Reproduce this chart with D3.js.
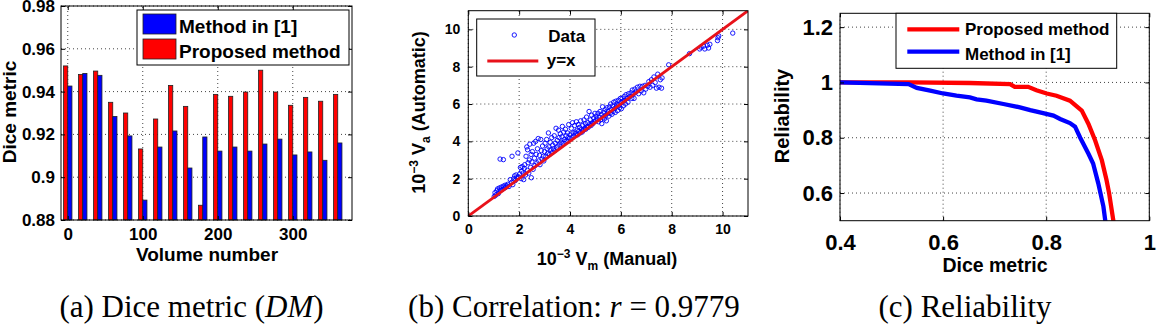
<!DOCTYPE html>
<html>
<head>
<meta charset="utf-8">
<script src="https://cdn.jsdelivr.net/npm/d3@7"></script>
<style>
  body { margin: 0; background: #fff; }
  svg { display: block; }
</style>
</head>
<body>
<div id="figure"></div>
<script>
// (a) Dice metric per volume
const volumeNumbers = [0, 20, 40, 60, 80, 100, 120, 140, 160, 180, 200, 220, 240, 260, 280, 300, 320, 340, 360];
const diceProposed = [0.952, 0.948, 0.9496, 0.935, 0.930, 0.9132, 0.9272, 0.9429, 0.9331, 0.8869, 0.9387, 0.9378, 0.9398, 0.950, 0.9398, 0.9336, 0.9373, 0.9355, 0.9387];
const diceMethod1 = [0.9426, 0.9485, 0.9476, 0.9284, 0.9193, 0.8893, 0.9141, 0.9216, 0.9043, 0.9188, 0.9122, 0.9141, 0.9122, 0.9155, 0.9178, 0.9104, 0.9118, 0.9079, 0.916];
const diceYTicks = [0.88, 0.9, 0.92, 0.94, 0.96, 0.98];
const diceYLabels = ['0.88', '0.9', '0.92', '0.94', '0.96', '0.98'];
const volumeTicks = [0, 100, 200, 300];

// (b) automatic vs manual volume, [Vm, Va] in units of 10^3
const volumePairs = [
  [1.02,1.05],[1.05,1.25],[1.08,1.12],[1.12,1.35],[1.15,1.45],[1.18,1.2],[1.22,1.5],[1.25,1.38],[1.3,1.55],[1.33,1.42],
  [1.38,1.6],[1.42,1.5],[1.45,1.65],[1.48,1.55],[1.25,3.05],[1.38,3.02],
  [1.52,1.62],[1.55,1.7],[1.6,1.58],[1.65,1.95],[1.7,1.8],[1.72,3.2],[1.75,1.68],[1.78,2.0],[1.82,2.15],[1.85,1.9],
  [1.88,2.2],[1.9,2.05],[1.95,3.38],[1.97,2.1],
  [2.02,2.25],[2.05,2.6],[2.08,2.0],[2.1,2.4],[2.12,2.65],[2.15,2.3],[2.18,1.95],[2.2,2.55],[2.22,2.75],[2.25,2.2],
  [2.27,3.2],[2.3,3.7],[2.32,2.45],[2.33,3.55],[2.35,2.85],[2.38,2.3],[2.4,3.0],[2.42,3.85],[2.45,2.6],[2.47,3.3],
  [2.48,2.05],[2.5,2.9],
  [2.52,3.45],[2.55,2.5],[2.57,3.9],[2.6,3.1],[2.62,2.7],[2.65,4.0],[2.67,3.3],[2.7,2.85],[2.72,3.6],[2.75,4.15],
  [2.77,2.95],[2.8,3.25],[2.82,2.75],[2.85,4.1],[2.87,3.5],[2.9,3.05],[2.92,3.75],[2.95,3.2],[2.97,2.95],[3.0,3.45],
  [3.02,3.9],[3.05,3.2],[3.08,4.1],[3.1,3.6],[3.12,3.35],[3.15,4.45],[3.17,3.7],[3.2,3.3],[3.22,3.95],[3.25,3.55],
  [3.28,4.2],[3.3,3.4],[3.32,3.8],[3.35,3.6],[3.38,4.3],[3.4,3.5],[3.42,3.9],[3.45,4.7],[3.47,3.65],[3.5,4.05],
  [3.52,3.75],[3.55,4.6],[3.57,4.2],[3.6,3.85],[3.62,4.4],[3.65,3.95],[3.68,4.25],[3.7,4.8],[3.72,3.9],[3.75,4.5],
  [3.78,4.1],[3.8,4.0],[3.82,4.65],[3.85,4.3],[3.88,4.05],[3.9,4.45],[3.92,4.2],[3.95,4.9],[3.98,4.15],
  [4.0,4.35],[4.05,4.7],[4.08,4.2],[4.1,5.0],[4.12,4.45],[4.15,4.3],[4.18,4.85],[4.2,4.5],[4.22,4.4],[4.25,5.05],
  [4.28,4.6],[4.3,4.35],[4.32,4.9],[4.35,4.55],[4.38,4.75],[4.4,4.45],[4.42,5.1],[4.45,4.65],[4.48,4.5],
  [4.5,4.85],[4.53,4.6],[4.55,5.15],[4.58,4.7],[4.6,4.95],[4.62,4.65],[4.65,5.3],[4.68,4.8],[4.7,5.0],[4.72,4.75],
  [4.75,5.6],[4.78,4.9],[4.8,5.15],[4.83,4.85],[4.85,5.4],[4.88,5.0],[4.9,4.95],[4.93,5.25],[4.96,5.05],[4.98,5.5],
  [5.0,5.1],[5.03,5.35],[5.06,5.2],[5.1,5.5],[5.12,5.05],[5.15,5.3],[5.18,5.6],[5.2,5.15],[5.23,5.45],[5.25,4.95],
  [5.28,5.85],[5.3,5.3],[5.33,5.55],[5.35,5.2],[5.38,5.7],[5.4,5.4],[5.43,5.1],[5.45,5.8],[5.48,5.5],
  [5.5,5.6],[5.53,5.35],[5.55,5.85],[5.58,5.5],[5.6,6.0],[5.62,5.7],[5.65,5.45],[5.68,5.9],[5.7,5.6],[5.72,6.1],
  [5.75,5.75],[5.78,5.55],[5.8,6.15],[5.82,5.85],[5.85,6.0],[5.87,5.65],[5.9,6.2],[5.92,5.95],[5.95,5.8],[5.98,6.3],
  [6.0,6.05],[6.02,5.75],[6.05,6.3],[6.08,6.15],[6.1,5.9],[6.13,6.4],[6.15,6.2],[6.18,6.0],[6.2,6.5],[6.25,6.3],
  [6.28,6.1],[6.3,6.55],[6.35,6.4],[6.4,6.6],[6.43,6.3],[6.45,6.75],[6.5,6.55],
  [6.52,6.3],[6.55,6.8],[6.6,6.65],[6.65,6.9],[6.7,6.55],[6.75,6.95],[6.8,6.7],[6.85,6.95],[6.9,6.6],[6.95,7.0],[6.98,6.8],
  [7.05,6.95],[7.1,7.2],[7.15,6.9],[7.2,7.3],[7.25,7.0],[7.3,7.45],[7.35,7.15],[7.4,6.85],[7.45,7.6],[7.5,6.9],
  [7.55,7.3],[7.6,6.85],[7.62,7.4],[7.88,8.1],
  [8.7,8.7],[9.1,8.95],[9.15,9.05],[9.25,9.1],[9.3,8.95],[9.4,9.15],[9.45,9.0],[9.5,9.2],[9.8,9.4],[9.82,9.55],
  [9.85,9.65],[10.4,9.8]
];
const volumeTicks10 = [0, 2, 4, 6, 8, 10];

// (c) reliability curves
const proposedDice = [0.40, 0.536, 0.652, 0.73, 0.739, 0.765, 0.781, 0.801, 0.82, 0.846, 0.869, 0.882, 0.895, 0.908, 0.917, 0.922, 0.927, 0.932];
const proposedRel = [1.0, 1.0, 0.998, 0.994, 0.984, 0.984, 0.972, 0.96, 0.952, 0.934, 0.898, 0.85, 0.79, 0.718, 0.647, 0.6, 0.539, 0.48];
const method1Dice = [0.40, 0.533, 0.549, 0.575, 0.6, 0.626, 0.652, 0.665, 0.684, 0.717, 0.749, 0.769, 0.794, 0.814, 0.827, 0.846, 0.856, 0.866, 0.882, 0.891, 0.901, 0.911, 0.916];
const method1Rel = [1.0, 0.994, 0.98, 0.97, 0.96, 0.952, 0.946, 0.939, 0.934, 0.922, 0.91, 0.9, 0.889, 0.88, 0.868, 0.853, 0.84, 0.8, 0.742, 0.707, 0.635, 0.551, 0.48];
const relXTicks = [0.4, 0.6, 0.8, 1];
const relYTicks = [0.6, 0.8, 1, 1.2];

const captions = ['(a) Dice metric (', '(b) Correlation: ', '(c) Reliability'];

const SANS = '"Liberation Sans", Arial, sans-serif';
const SERIF = '"Liberation Serif", "Times New Roman", serif';

const svg = d3.select('#figure').append('svg')
    .attr('width', 1157)
    .attr('height', 326)
    .style('background', '#fff');

drawDiceBars();
drawCorrelation();
drawReliability();
drawCaptions();

// dotted grid at the ticks
function drawFrame(g, x, y, opt) {
  const [xl, xr] = x.range();
  const [yb, yt] = y.range();

  g.append('g').selectAll('line').data(opt.xTicks).join('line')
      .attr('x1', d => x(d)).attr('x2', d => x(d))
      .attr('y1', yb).attr('y2', yt);
  g.append('g').selectAll('line').data(opt.yTicks).join('line')
      .attr('x1', xl).attr('x2', xr)
      .attr('y1', d => y(d)).attr('y2', d => y(d));
  g.selectAll('g line')
      .attr('stroke', '#444')
      .attr('stroke-width', 1)
      .attr('stroke-dasharray', '1,3');
}

// inward ticks on all four sides plus the box
function drawAxes(g, x, y, opt) {
  const [xl, xr] = x.range();
  const [yb, yt] = y.range();

  const bottom = g.append('g').attr('transform', `translate(0,${yb})`)
      .call(d3.axisBottom(x).tickValues(opt.xTicks).tickFormat(opt.xFormat)
        .tickSizeInner(-4).tickSizeOuter(0).tickPadding(opt.xPad));
  const left = g.append('g').attr('transform', `translate(${xl},0)`)
      .call(d3.axisLeft(y).tickValues(opt.yTicks).tickFormat(opt.yFormat)
        .tickSizeInner(-4).tickSizeOuter(0).tickPadding(opt.yPad));
  g.append('g').attr('transform', `translate(0,${yt})`)
      .call(d3.axisTop(x).tickValues(opt.xTicks).tickFormat('').tickSizeInner(-4).tickSizeOuter(0));
  g.append('g').attr('transform', `translate(${xr},0)`)
      .call(d3.axisRight(y).tickValues(opt.yTicks).tickFormat('').tickSizeInner(-4).tickSizeOuter(0));

  g.selectAll('.domain').remove();
  g.selectAll('.tick line').attr('stroke', '#000');
  [bottom, left].forEach(a => a
      .attr('font-family', SANS)
      .attr('font-size', opt.tickSize)
      .attr('font-weight', 'bold'));
  g.selectAll('.tick text').attr('fill', '#000');

  g.append('rect')
      .attr('x', xl).attr('y', yt)
      .attr('width', xr - xl).attr('height', yb - yt)
      .attr('fill', 'none')
      .attr('stroke', '#000')
      .attr('stroke-width', 1);
}

function label(g, text, x, y, size, rotate) {
  const t = g.append('text')
      .attr('font-family', SANS)
      .attr('font-weight', 'bold')
      .attr('font-size', size)
      .attr('text-anchor', 'middle');
  if (rotate) {
    t.attr('transform', `translate(${x},${y}) rotate(-90)`);
  } else {
    t.attr('x', x).attr('y', y);
  }
  t.text(text);
  return t;
}

function drawDiceBars() {
  const g = svg.append('g');
  const x = d3.scaleLinear([-9, 379], [61, 352]);
  const y = d3.scaleLinear([0.88, 0.98], [220, 6]);
  const barW = 5.6;

  drawFrame(g, x, y, { xTicks: volumeTicks, yTicks: diceYTicks });

  const bars = g.append('g');
  bars.selectAll('rect.proposed').data(volumeNumbers).join('rect')
      .attr('class', 'proposed')
      .attr('x', d => x(d - barW))
      .attr('width', x(barW) - x(0))
      .attr('y', (d, i) => y(diceProposed[i]))
      .attr('height', (d, i) => y(0.88) - y(diceProposed[i]))
      .attr('fill', '#ff0000');
  bars.selectAll('rect.method1').data(volumeNumbers).join('rect')
      .attr('class', 'method1')
      .attr('x', d => x(d))
      .attr('width', x(barW) - x(0))
      .attr('y', (d, i) => y(diceMethod1[i]))
      .attr('height', (d, i) => y(0.88) - y(diceMethod1[i]))
      .attr('fill', '#0000ff');
  bars.selectAll('rect')
      .attr('stroke', '#222')
      .attr('stroke-width', 0.8);

  drawAxes(g, x, y, {
    xTicks: volumeTicks, yTicks: diceYTicks,
    xFormat: d => d, yFormat: (d, i) => diceYLabels[i],
    xPad: 8, yPad: 6, tickSize: 17
  });

  // legend
  const lg = g.append('g');
  lg.append('rect').attr('x', 137).attr('y', 10).attr('width', 212).attr('height', 55)
      .attr('fill', '#fff').attr('stroke', '#000');
  const items = [['Method in [1]', '#0000ff'], ['Proposed method', '#ff0000']];
  items.forEach(([name, col], i) => {
    lg.append('rect')
        .attr('x', 143).attr('y', 14 + i * 25)
        .attr('width', 33).attr('height', 20)
        .attr('fill', col).attr('stroke', '#222').attr('stroke-width', 0.8);
    lg.append('text')
        .attr('x', 179).attr('y', 32.5 + i * 25)
        .attr('font-family', SANS).attr('font-weight', 'bold').attr('font-size', 19)
        .text(name);
  });

  label(g, 'Volume number', 207, 261, 19);
  label(g, 'Dice metric', 16, 112, 19, true);
}

function drawCorrelation() {
  const g = svg.append('g');
  const x = d3.scaleLinear([0, 11], [468.3, 748]);
  const y = d3.scaleLinear([0, 11], [216, 10.7]);

  drawFrame(g, x, y, { xTicks: volumeTicks10, yTicks: volumeTicks10 });

  g.append('clipPath').attr('id', 'clip-b')
    .append('rect').attr('x', 468.3).attr('y', 10.7).attr('width', 748 - 468.3).attr('height', 216 - 10.7);

  const plot = g.append('g').attr('clip-path', 'url(#clip-b)');
  plot.selectAll('circle').data(volumePairs).join('circle')
      .attr('cx', d => x(d[0]))
      .attr('cy', d => y(d[1]))
      .attr('r', 2.2)
      .attr('fill', 'none')
      .attr('stroke', '#0000ff')
      .attr('stroke-width', 0.9);
  plot.append('line')
      .attr('x1', x(0)).attr('y1', y(0))
      .attr('x2', x(11)).attr('y2', y(11))
      .attr('stroke', '#e8121a')
      .attr('stroke-width', 2.8);

  drawAxes(g, x, y, {
    xTicks: volumeTicks10, yTicks: volumeTicks10,
    xFormat: d => d, yFormat: d => d,
    xPad: 8, yPad: 8, tickSize: 14
  });

  // legend
  const lg = g.append('g');
  lg.append('rect').attr('x', 476.7).attr('y', 19).attr('width', 118.3).attr('height', 57)
      .attr('fill', '#fff').attr('stroke', '#000');
  lg.append('circle').attr('cx', 514.3).attr('cy', 35).attr('r', 2.2)
      .attr('fill', 'none').attr('stroke', '#0000ff').attr('stroke-width', 0.9);
  lg.append('line').attr('x1', 487.3).attr('x2', 538.3).attr('y1', 61).attr('y2', 61)
      .attr('stroke', '#e8121a').attr('stroke-width', 2.8);
  lg.append('text').attr('x', 548.3).attr('y', 41.5)
      .attr('font-family', SANS).attr('font-weight', 'bold').attr('font-size', 17)
      .text('Data');
  lg.append('text').attr('x', 546.7).attr('y', 66)
      .attr('font-family', SANS).attr('font-weight', 'bold').attr('font-size', 17)
      .text('y=x');

  // axis labels with super/subscripts
  const xl = label(g, '', 607, 265, 18);
  xl.append('tspan').text('10');
  xl.append('tspan').attr('dy', -7).attr('font-size', 12).text('\u22123');
  xl.append('tspan').attr('dy', 7).text(' V');
  xl.append('tspan').attr('dy', 5).attr('font-size', 12).text('m');
  xl.append('tspan').attr('dy', -5).text(' (Manual)');

  const yl = label(g, '', 425, 112.5, 18, true);
  yl.append('tspan').text('10');
  yl.append('tspan').attr('dy', -7).attr('font-size', 12).text('\u22123');
  yl.append('tspan').attr('dy', 7).text(' V');
  yl.append('tspan').attr('dy', 5).attr('font-size', 12).text('a');
  yl.append('tspan').attr('dy', -5).text(' (Automatic)');
}

function drawReliability() {
  const g = svg.append('g');
  const x = d3.scaleLinear([0.4, 1], [840, 1149.3]);
  const y = d3.scaleLinear([0.5, 1.25], [220.7, 13.3]);

  drawFrame(g, x, y, { xTicks: relXTicks, yTicks: relYTicks });

  g.append('clipPath').attr('id', 'clip-c')
    .append('rect').attr('x', 840).attr('y', 13.3).attr('width', 1149.3 - 840).attr('height', 220.7 - 13.3);

  const line = d3.line().x(d => x(d[0])).y(d => y(d[1]));
  const plot = g.append('g').attr('clip-path', 'url(#clip-c)');
  plot.append('path')
      .datum(proposedDice.map((d, i) => [d, proposedRel[i]]))
      .attr('d', line)
      .attr('fill', 'none').attr('stroke', '#ff0000').attr('stroke-width', 4.3);
  plot.append('path')
      .datum(method1Dice.map((d, i) => [d, method1Rel[i]]))
      .attr('d', line)
      .attr('fill', 'none').attr('stroke', '#0000ff').attr('stroke-width', 4.3);

  drawAxes(g, x, y, {
    xTicks: relXTicks, yTicks: relYTicks,
    xFormat: d => d, yFormat: d => d,
    xPad: 14, yPad: 7, tickSize: 22
  });

  const lg = g.append('g');
  lg.append('rect').attr('x', 896).attr('y', 13.3).attr('width', 220.7).attr('height', 55)
      .attr('fill', '#fff').attr('stroke', '#000');
  [['Proposed method', '#ff0000'], ['Method in [1]', '#0000ff']].forEach(([name, col], i) => {
    lg.append('line').attr('x1', 907.3).attr('x2', 959.3)
        .attr('y1', 29.3 + i * 22.4).attr('y2', 29.3 + i * 22.4)
        .attr('stroke', col).attr('stroke-width', 4.3);
    lg.append('text').attr('x', 965).attr('y', 35 + i * 24.5)
        .attr('font-family', SANS).attr('font-weight', 'bold').attr('font-size', 17)
        .text(name);
  });

  label(g, 'Dice metric', 995, 271.5, 19.5);
  label(g, 'Reliability', 789, 116, 20, true);
}

function drawCaptions() {
  const base = 317;
  const a = svg.append('text').attr('x', 191.5).attr('y', base);
  a.append('tspan').text(captions[0]);
  a.append('tspan').attr('font-style', 'italic').text('DM');
  a.append('tspan').text(')');

  const b = svg.append('text').attr('x', 574).attr('y', base);
  b.append('tspan').text(captions[1]);
  b.append('tspan').attr('font-style', 'italic').text('r');
  b.append('tspan').text(' = 0.9779');

  svg.append('text').attr('x', 965).attr('y', base).text(captions[2]);

  svg.selectAll('svg > text')
      .attr('font-family', SERIF)
      .attr('font-size', 31)
      .attr('text-anchor', 'middle')
      .attr('fill', '#000');
}
</script>
</body>
</html>
